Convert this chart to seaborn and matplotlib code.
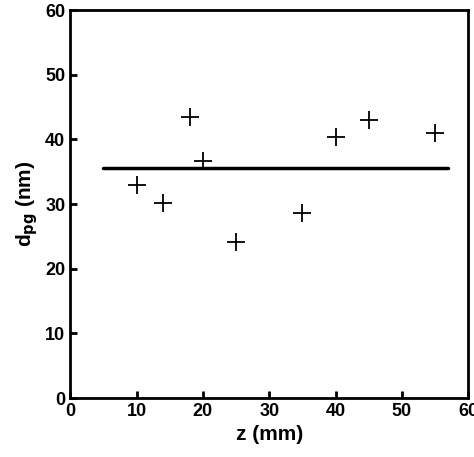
import matplotlib
matplotlib.use("Agg")
import matplotlib.pyplot as plt
import seaborn as sns
import pandas as pd

z_mm = [10, 14, 18, 20, 25, 35, 40, 45, 55]
d_pg = [33.0, 30.2, 43.5, 36.7, 24.2, 28.6, 40.4, 43.0, 41.0]
fit_z = [5, 57]
fit_d = [35.5, 35.5]

sns.set_style("ticks", {"axes.edgecolor": "black", "text.color": "black",
                        "xtick.color": "black", "ytick.color": "black",
                        "axes.labelcolor": "black"})
plt.rcParams['font.family'] = ['Liberation Sans', 'DejaVu Sans']
plt.rcParams['font.weight'] = 'bold'

df = pd.DataFrame({"z": z_mm, "d": d_pg})
fig = plt.figure(figsize=(4.74, 4.57), dpi=100)
ax = fig.add_axes([0.148, 0.129, 0.84, 0.849])
sns.scatterplot(data=df, x="z", y="d", marker="+", s=150, color="black",
                linewidth=1.3, ax=ax)
sns.lineplot(x=fit_z, y=fit_d, color="black", linewidth=2.5, ax=ax)

ax.set_xlim(0, 60)
ax.set_ylim(0, 60)
ax.set_xticks(range(0, 61, 10))
ax.set_yticks(range(0, 61, 10))
ax.tick_params(direction="in", length=5, width=2, labelsize=13)
for sp in ax.spines.values():
    sp.set_linewidth(2)
    sp.set_visible(True)
ax.set_xlabel("z (mm)", fontsize=15, fontweight="bold")
ax.set_ylabel(r"d$_{\mathbf{pg}}$ (nm)", fontsize=15, fontweight="bold")
fig.savefig("out.png", dpi=100)
